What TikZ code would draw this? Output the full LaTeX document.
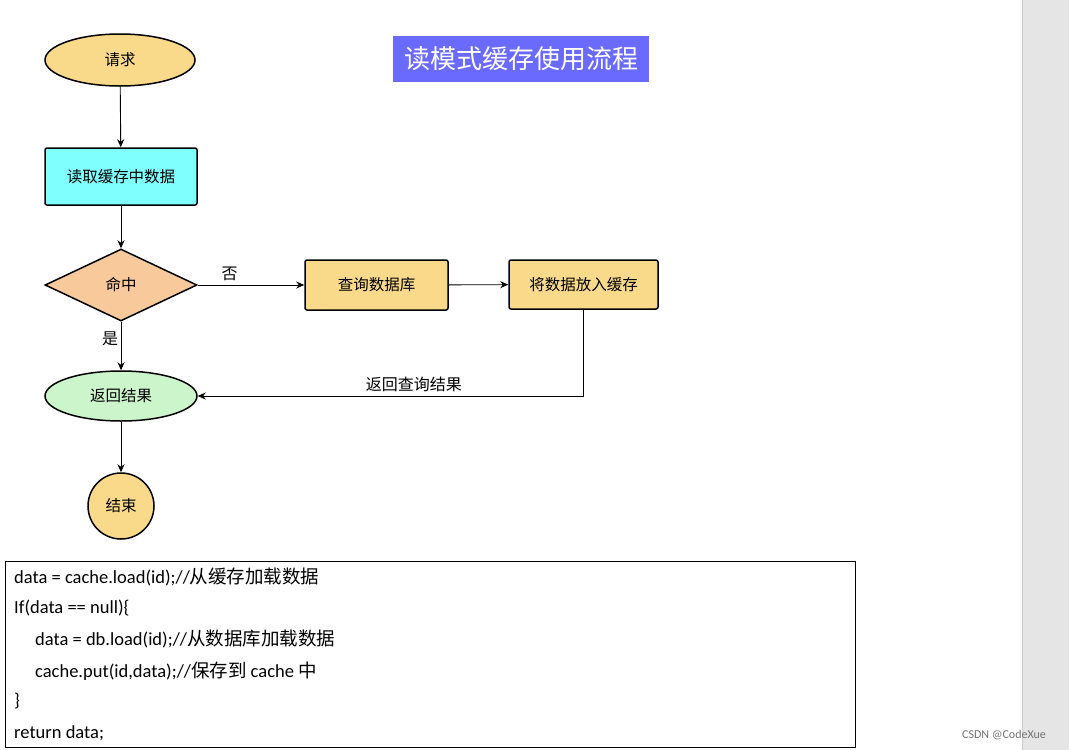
\documentclass[tikz,border=0pt]{standalone}
\usepackage{fontspec}
\setmainfont{Carlito}
\newfontfamily\cjk{Noto Sans CJK SC}
\usetikzlibrary{shapes.geometric,arrows.meta}
\definecolor{yel}{HTML}{F9D98A}
\definecolor{cya}{HTML}{80FFFF}
\definecolor{pea}{HTML}{F8C99A}
\definecolor{grn}{HTML}{CCF5CC}
\definecolor{blu}{HTML}{6A6AFF}
\tikzset{
 x=1pt,y=-1pt,
 base/.style={draw=black,line width=1.5pt,font=\cjk\fontsize{15.5}{18}\selectfont,inner sep=0pt},
 ell/.style={base,ellipse,minimum width=150pt,minimum height=52pt},
 box/.style={base,rectangle,rounded corners=2pt,minimum height=52pt},
 arr/.style={-{Stealth[length=8pt,width=7pt]},line width=0.9pt},
 lbl/.style={font=\cjk\fontsize{16}{18}\selectfont},
 code/.style={anchor=west,font=\fontsize{18.5}{20}\selectfont,inner sep=0pt}
}
\begin{document}
\begin{tikzpicture}
\useasboundingbox (0,0) rectangle (1069,750);
\fill[white] (0,0) rectangle (1069,750);
\fill[black!10] (1022,0) rectangle (1069,750);
\draw[black!20] (1022,0) -- (1022,750);
\node[fill=blu,inner sep=0pt,minimum width=256pt,minimum height=46pt,text=white,font=\cjk\fontsize{26}{28}\selectfont] (t) at (521,59) {读模式缓存使用流程};
\node[ell,fill=yel] (req) at (120,60) {请求};
\node[box,fill=cya,minimum width=152pt,minimum height=57pt] (rd) at (121,176.5) {读取缓存中数据};
\node[base,diamond,aspect=2.1,fill=pea,minimum width=152pt,minimum height=72pt] (hit) at (121,285) {命中};
\node[box,fill=yel,minimum width=143pt,minimum height=50pt] (db) at (376.5,285) {查询数据库};
\node[box,fill=yel,minimum width=149pt,minimum height=49pt] (put) at (583.5,284.5) {将数据放入缓存};
\node[ell,fill=grn,minimum width=152pt,minimum height=50pt] (ret) at (121,396) {返回结果};
\node[base,circle,fill=yel,minimum size=66pt] (end) at (121,506) {结束};
\draw[arr] (req) -- (rd);
\draw[arr] (rd) -- (hit);
\draw[arr] (hit) -- node[lbl,above,pos=0.3,yshift=0pt]{否} (db);
\draw[arr] (db) -- (put);
\draw[arr] (hit) -- node[lbl,left,pos=0.35,xshift=1pt]{是} (ret);
\draw[arr] (put.south) |- node[lbl,above,pos=0.72,yshift=0pt]{返回查询结果} (ret.east);
\draw[arr] (ret) -- (end);
\node[draw=black,line width=0.8pt,minimum width=850pt,minimum height=186pt,inner sep=0pt] (cb) at (430,654) {};
\node[code] (c1) at (14,577) {data = cache.load(id);//{\cjk 从缓存加载数据}};
\node[code] (c2) at (14,608) {If(data == null)\{};
\node[code] (c3) at (35,639) {data = db.load(id);//{\cjk 从数据库加载数据}};
\node[code] (c4) at (35,671) {cache.put(id,data);//{\cjk 保存到} cache {\cjk 中}};
\node[code] (c5) at (14,701) {\}};
\node[code] (c6) at (14,733) {return data;};
\node[font=\fontsize{12}{13}\selectfont,text=black!55] (wm) at (1004,735) {CSDN @CodeXue};
\end{tikzpicture}
\end{document}
